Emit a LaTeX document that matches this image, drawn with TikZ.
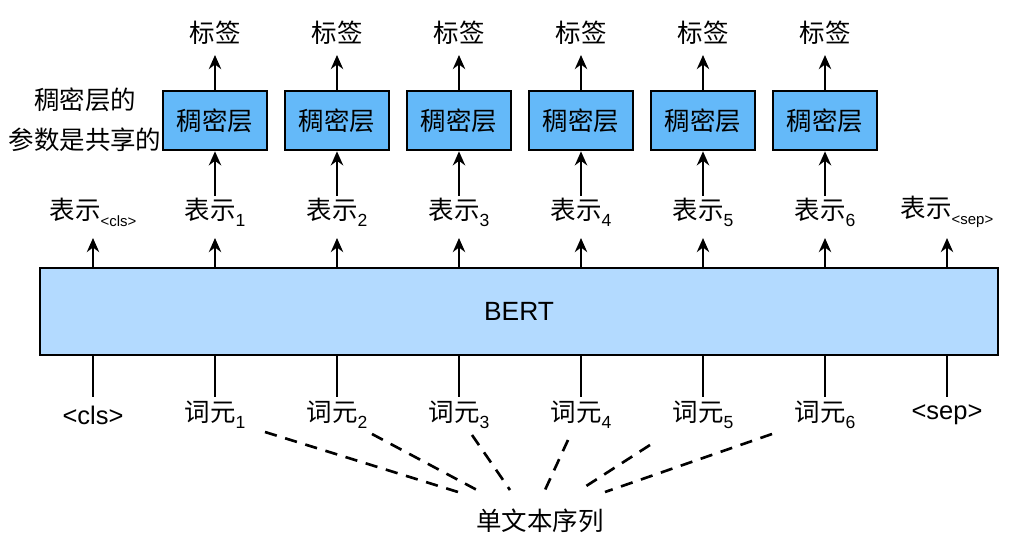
\documentclass[tikz,border=0pt]{standalone}
\usepackage{fontspec}
\setmainfont{Liberation Sans}
\newfontfamily\cjk{Noto Sans CJK SC}
\usetikzlibrary{arrows.meta}
\definecolor{dense}{HTML}{64B9F9}
\definecolor{bert}{HTML}{B3DAFF}
\newcommand{\mysub}[1]{\raisebox{-0.5ex}{\fontsize{10}{11}\selectfont\rmfamily #1}}
\newcommand{\mysubs}[1]{\raisebox{-0.5ex}{\fontsize{8.5}{9}\selectfont\rmfamily #1}}
\begin{document}
\begin{tikzpicture}[x=0.02cm,y=-0.02cm,
  lab/.style={font=\cjk\fontsize{14.5}{17}\selectfont, inner sep=1pt},
  box/.style={draw, line width=1.5pt, fill=dense, minimum width=2.08cm, minimum height=1.18cm, font=\cjk\fontsize{14.5}{17}\selectfont},
  arr/.style={-{Stealth[length=8pt,width=7pt]}, line width=1.5pt},
  ln/.style={line width=1.5pt},
  dsh/.style={line width=1.5pt, dash pattern=on 7pt off 5pt}]
\useasboundingbox (0,0) rectangle (1010,544);
\node[draw, line width=1.5pt, fill=bert, minimum width=19.16cm, minimum height=1.74cm, font=\fontsize{15}{17}\selectfont] (bert) at (519,311.5) {BERT};
\node[lab, align=center] (note) at (85,120) {稠密层的\\[6pt]参数是共享的};
\foreach \i/\x/\tok/\rep in {0/93/{\rmfamily <cls>}/{表示\mysubs{<cls>}},
  1/215/{词元\mysub{1}}/{表示\mysub{1}},2/337/{词元\mysub{2}}/{表示\mysub{2}},3/459/{词元\mysub{3}}/{表示\mysub{3}},
  4/581/{词元\mysub{4}}/{表示\mysub{4}},5/703/{词元\mysub{5}}/{表示\mysub{5}},6/825/{词元\mysub{6}}/{表示\mysub{6}},
  7/947/{\rmfamily <sep>}/{表示\mysubs{<sep>}}}{
  \node[lab] (t\i) at (\x,415) {\tok};
  \node[lab] (r\i) at (\x,212) {\rep};
  \coordinate (bt\i) at (\x,268);
  \coordinate (bb\i) at (\x,355);
  \coordinate (tt\i) at (\x,397);
  \draw[ln] (bb\i) -- (tt\i);
  \draw[arr] (bt\i) -- (\x,238);
}
\foreach \i/\x in {1/215,2/337,3/459,4/581,5/703,6/825}{
  \node[box] (d\i) at (\x,120.5) {稠密层};
  \node[lab] (l\i) at (\x,33) {标签};
  \draw[arr] (\x,196) -- (d\i.south);
  \draw[arr] (d\i.north) -- (\x,55);
}
\node[lab] (seq) at (540,521) {单文本序列};
\coordinate (e1) at (458,492); \coordinate (s1) at (265,432);
\coordinate (e2) at (477,490); \coordinate (s2) at (372,434);
\coordinate (e3) at (510,490); \coordinate (s3) at (472,435);
\coordinate (e4) at (545,490); \coordinate (s4) at (568,440);
\coordinate (e5) at (580,490); \coordinate (s5) at (650,445);
\coordinate (e6) at (605,492); \coordinate (s6) at (772,434);
\foreach \k in {1,...,6}{\draw[dsh] (s\k) -- (e\k);}
\end{tikzpicture}
\end{document}
